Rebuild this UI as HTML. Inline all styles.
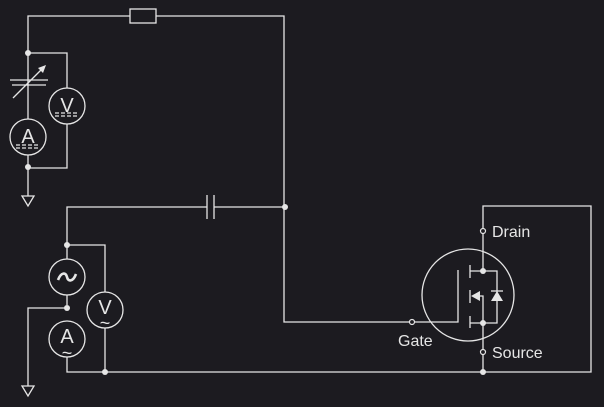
<!DOCTYPE html><html><head><style>body{margin:0;background:#1c1b20}svg{display:block}</style></head><body>
<svg width="604" height="407" viewBox="0 0 604 407" xmlns="http://www.w3.org/2000/svg">
<rect width="604" height="407" fill="#1c1b20"/>
<g stroke="#e6e6e6" stroke-width="1.3" fill="none">
<polyline points="28,196 28,16 130,16"/><rect x="130" y="9" width="26" height="14"/><polyline points="156,16 284,16 284,322 411,322"/>
<polyline points="28,53 67,53 67,168 28,168"/>
<line x1="10" y1="80" x2="48" y2="80"/><line x1="12" y1="85" x2="46" y2="85"/>
<line x1="13" y1="98" x2="42" y2="69"/>
<circle cx="28" cy="137" r="18" fill="#1c1b20"/><circle cx="67" cy="106" r="18" fill="#1c1b20"/>
<polygon points="22,196 34,196 28,206"/>
<polyline points="67,305 67,207 207,207"/><line x1="207" y1="195" x2="207" y2="219"/><line x1="214" y1="195" x2="214" y2="219"/><line x1="214" y1="207" x2="285" y2="207"/>
<polyline points="67,245 105,245 105,372"/>
<polyline points="67,308 28,308 28,386"/><polygon points="22,386 34,386 28,396"/>
<polyline points="67,339 67,372 591,372 591,206 483,206 483,271"/>
<circle cx="67" cy="277" r="18" fill="#1c1b20"/><circle cx="67" cy="339" r="18" fill="#1c1b20"/><circle cx="105" cy="310" r="18" fill="#1c1b20"/>
<circle cx="468" cy="295" r="46"/>
<polyline points="415,322 458,322 458,270"/>
<line x1="470" y1="265" x2="470" y2="278"/><line x1="470" y1="290" x2="470" y2="303"/><line x1="470" y1="316" x2="470" y2="328"/>
<polyline points="470,271 497,271 497,323 470,323"/>
<polyline points="478,296 483,296 483,372"/>
<line x1="491" y1="291" x2="503" y2="291"/>
<path d="M58,280 C61,272 66,272 67,277 C68,282 73,282 76,274" stroke-width="2.6"/>
</g>
<g fill="#e6e6e6">
<polygon points="46,65 38,68 43,73"/>
<circle cx="28" cy="53" r="3"/><circle cx="28" cy="167" r="3"/><circle cx="285" cy="207" r="3"/><circle cx="67" cy="245" r="3"/><circle cx="67" cy="308" r="3"/><circle cx="105" cy="372" r="3"/><circle cx="483" cy="372" r="3"/><circle cx="483" cy="271" r="3"/><circle cx="483" cy="323" r="3"/>
<polygon points="471,296 480,291 480,301"/>
<polygon points="497,291 491,301 503,301"/>
</g>
<g fill="#1c1b20" stroke="#e6e6e6" stroke-width="1.2"><circle cx="412" cy="322" r="2.5"/><circle cx="483" cy="231" r="2.5"/><circle cx="483" cy="352" r="2.5"/></g>
<g fill="#e6e6e6" font-family="Liberation Sans, sans-serif" text-anchor="middle">
<text x="28" y="143" font-size="20">A</text><text x="67" y="112" font-size="20">V</text>
<text x="67" y="343" font-size="20">A</text><text x="67" y="359" font-size="18">~</text>
<text x="105" y="314" font-size="20">V</text><text x="105" y="329" font-size="18">~</text>
</g>
<g stroke="#e6e6e6" stroke-width="1.2" stroke-dasharray="4 2"><line x1="16" y1="145" x2="40" y2="145"/><line x1="16" y1="148" x2="40" y2="148"/><line x1="55" y1="113" x2="79" y2="113"/><line x1="55" y1="116" x2="79" y2="116"/></g>
<g fill="#e6e6e6" font-family="Liberation Sans, sans-serif" font-size="16">
<text x="492" y="237">Drain</text><text x="398" y="346">Gate</text><text x="492" y="358">Source</text></g>
</svg></body></html>
